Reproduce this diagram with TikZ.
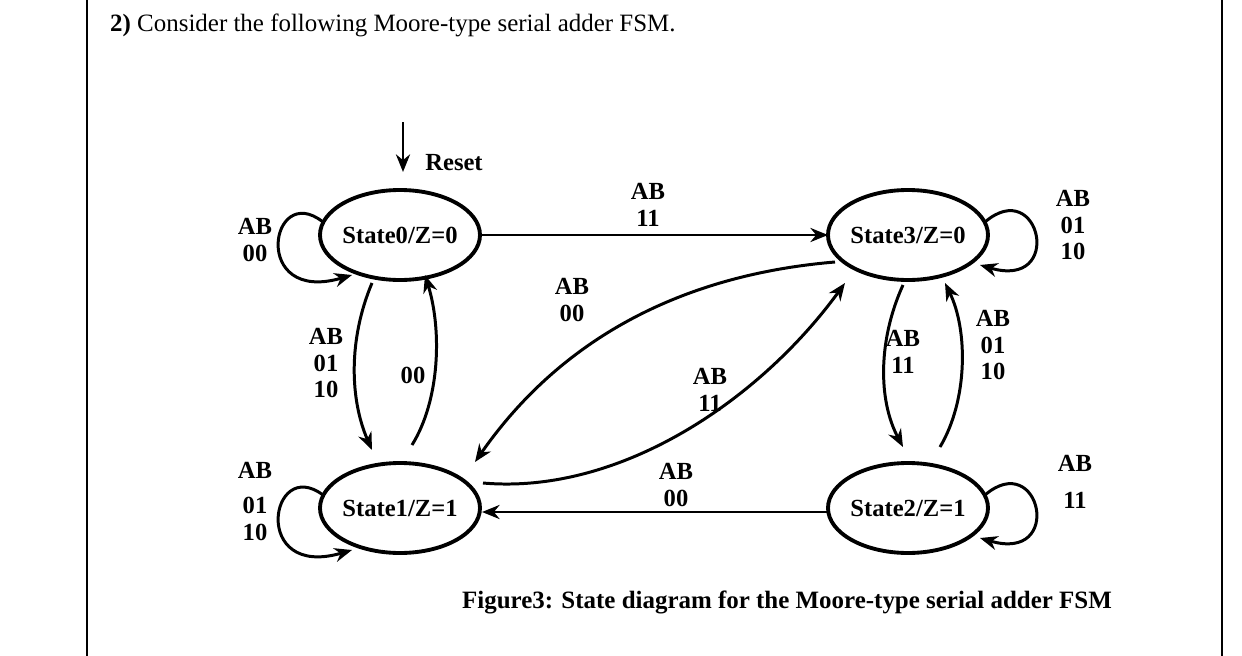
\documentclass[tikz,border=0pt]{standalone}
\usepackage{fontspec}
\setmainfont{Liberation Serif}
\usetikzlibrary{arrows.meta}
\begin{document}
\begin{tikzpicture}[x=0.02cm,y=-0.02cm,
  e/.style={line width=1.7pt,-{Stealth[length=10pt,width=8pt]}},
  lb/.style={font=\bfseries\fontsize{14}{15}\selectfont,align=center},
  txt/.style={font=\fontsize{14.2}{16}\selectfont}]
\useasboundingbox (0,0) rectangle (1242,656);
\draw[line width=1.2pt] (87,0) -- (87,656) (1222,0) -- (1222,656);
\node[txt,anchor=west] (title) at (104,25) {\textbf{2)} Consider the following Moore-type serial adder FSM.};
\foreach \n/\x/\y/\t in {s0/400/235/State0\slash Z=0, s1/400/508/State1\slash Z=1, s3/908/235/State3\slash Z=0, s2/908/508/State2\slash Z=1}
  \draw[line width=2.2pt] (\x,\y) ellipse [x radius=80, y radius=45] node[lb] (\n) {\t};
\coordinate (s0w) at (323,222); \coordinate (s0wb) at (352,275);
\coordinate (s1w) at (323,495); \coordinate (s1wb) at (352,550);
\coordinate (s3e) at (985,222); \coordinate (s3eb) at (980,265);
\coordinate (s2e) at (985,495); \coordinate (s2eb) at (980,538);
% reset
\coordinate (r0) at (403,122); \coordinate (r1) at (403,172);
\draw[e] (r0) -- (r1);
\node[lb] (reset) at (454,163) {Reset};
% self loops
\draw[e] (s0w) .. controls (270,180) and (250,305) .. (s0wb);
\node[lb] (l0) at (255,240) {AB\\00};
\draw[e] (s1w) .. controls (270,455) and (250,580) .. (s1wb);
\node[lb] (l1a) at (255,470) {AB};
\node[lb] (l1) at (255,519) {01\\10};
\draw[e] (s3e) .. controls (1040,175) and (1065,290) .. (s3eb);
\node[lb] (l3) at (1073,225) {AB\\01\\10};
\draw[e] (s2e) .. controls (1040,448) and (1065,563) .. (s2eb);
\node[lb] (l2) at (1075,482) {AB\\[6pt]11};
% straight
\coordinate (a0) at (482,235); \coordinate (a3) at (828,235);
\draw[e] (a0) -- (a3);
\node[lb] (t03) at (648,205) {AB\\11};
\coordinate (a2) at (828,512); \coordinate (a1) at (482,512);
\draw[e] (a2) -- (a1);
\node[lb] (t21) at (676,485) {AB\\00};
% left pair
\coordinate (b0) at (372,283); \coordinate (b1) at (372,450);
\draw[e] (b0) .. controls (348,340) and (350,400) .. (b1);
\node[lb] (t01) at (326,363) {AB\\01\\10};
\coordinate (c1) at (412,445); \coordinate (c0) at (425,275);
\draw[e] (c1) .. controls (440,400) and (442,330) .. (c0);
\node[lb] (t10) at (413,375) {00};
% right pair
\coordinate (d3) at (903,285); \coordinate (d2) at (903,447);
\draw[e] (d3) .. controls (878,340) and (878,400) .. (d2);
\node[lb] (t32) at (903,352) {AB\\11};
\coordinate (f2) at (940,447); \coordinate (f3) at (945,283);
\draw[e] (f2) .. controls (968,400) and (968,330) .. (f3);
\node[lb] (t23) at (993,345) {AB\\01\\10};
% diagonals
\coordinate (g3) at (835,262); \coordinate (g1) at (475,462);
\draw[e] (g3) .. controls (680,275) and (560,340) .. (g1);
\node[lb] (t31) at (572,300) {AB\\00};
\coordinate (h1) at (483,483); \coordinate (h3) at (845,283);
\draw[e] (h1) .. controls (620,495) and (760,400) .. (h3);
\node[lb] (t13) at (710,390) {AB\\11};
\node[lb,font=\bfseries\fontsize{14.2}{16}\selectfont] (cap) at (787,602) {Figure3: State diagram for the Moore-type serial adder FSM};
\end{tikzpicture}
\end{document}
